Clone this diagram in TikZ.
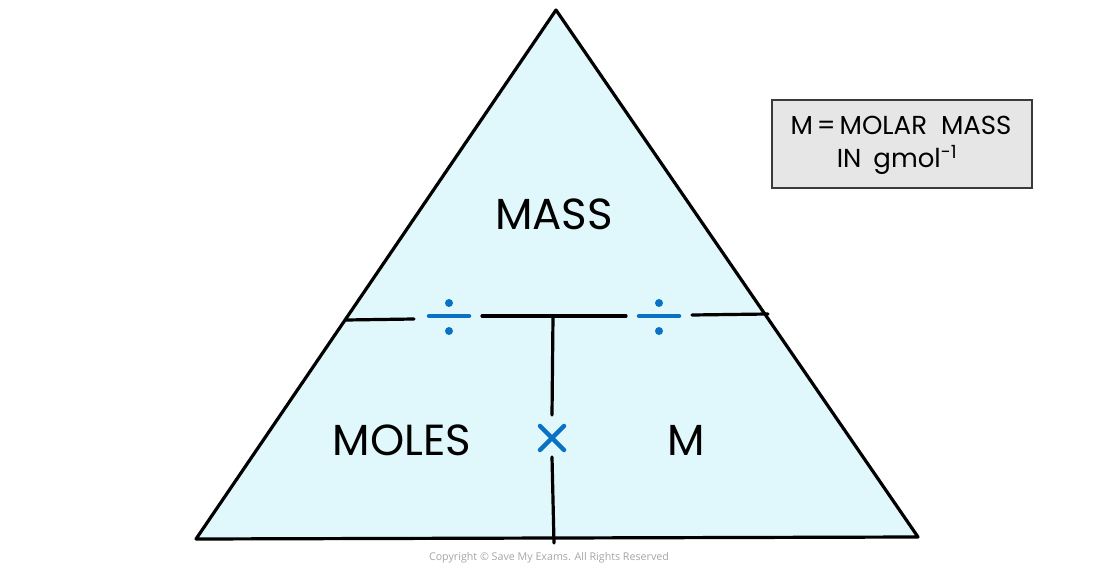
\documentclass[tikz,border=0pt]{standalone}
\usepackage{fontspec}
\setmainfont{Open Sans}
\newfontfamily\geofont{Poppins}
\usetikzlibrary{calc}
\definecolor{trifill}{HTML}{E0F8FB}
\definecolor{symblue}{HTML}{0A72C4}
\definecolor{boxfill}{HTML}{E6E6E6}
\definecolor{boxline}{HTML}{3A3A3A}
\begin{document}
\begin{tikzpicture}[x=1pt,y=-1pt,
  edge/.style={line width=3.2pt,line join=round,line cap=round,draw=black},
  symb/.style={line width=4.5pt,line cap=round,draw=symblue},
  big/.style={font=\geofont\fontsize{43.5}{46}\selectfont,inner sep=0pt},
  boxtxt/.style={font=\geofont\fontsize{26}{30}\selectfont,inner sep=0pt}]
\useasboundingbox (0,0) rectangle (1100,569);
\fill[white] (0,0) rectangle (1100,569);
% triangle corners
\coordinate (A) at (556,10);
\coordinate (L) at (196,539);
\coordinate (R) at (918,537);
\filldraw[fill=trifill,edge] (A) -- (R) -- (L) -- cycle;
% horizontal divider
\coordinate (h1) at (346,320);
\coordinate (h2) at (414,319);
\coordinate (h3) at (482,316);
\coordinate (h4) at (626,316);
\coordinate (h5) at (692,315);
\coordinate (h6) at (768,314);
\draw[edge] (h1) -- (h2);
\draw[edge] (h3) -- (h4);
\draw[edge] (h5) -- (h6);
% vertical divider
\coordinate (v1) at (553,316);
\coordinate (v2) at (552,415);
\coordinate (v3) at (552,457);
\coordinate (v4) at (554,543);
\draw[edge] (v1) -- (v2);
\draw[edge] (v3) -- (v4);
% division symbols
\foreach \cx in {449,659}{
  \draw[symb] (\cx-20,316) -- (\cx+20,316);
  \fill[symblue] (\cx,303) circle (4pt);
  \fill[symblue] (\cx,331) circle (4pt);
}
% times symbol
\coordinate (xc) at (552,438);
\draw[symb] ($(xc)+(-12,-12)$) -- ($(xc)+(12,12)$);
\draw[symb] ($(xc)+(-12,12)$) -- ($(xc)+(12,-12)$);
% labels
\node[big] (mass) at (554,214) {MASS};
\node[big] (moles) at (402,440) {MOLES};
\node[big] (m) at (686,440) {M};
% info box
\node[draw=boxline,fill=boxfill,line width=1.2pt,minimum width=260pt,minimum height=88pt,inner sep=0pt] (box) at (902,144) {};
\node[boxtxt] (l1) at (901,125) {M\hspace{4pt}=\hspace{4pt}MOLAR\hspace{14pt}MASS};
\node[boxtxt] (l2) at (897,160) {IN\hspace{12pt}gmol\textsuperscript{-1}};
% copyright
\node[font=\fontsize{10.7}{12}\selectfont,text=gray!70,inner sep=0pt] (copy) at (549,558) {Copyright © Save My Exams. All Rights Reserved};
\end{tikzpicture}
\end{document}
